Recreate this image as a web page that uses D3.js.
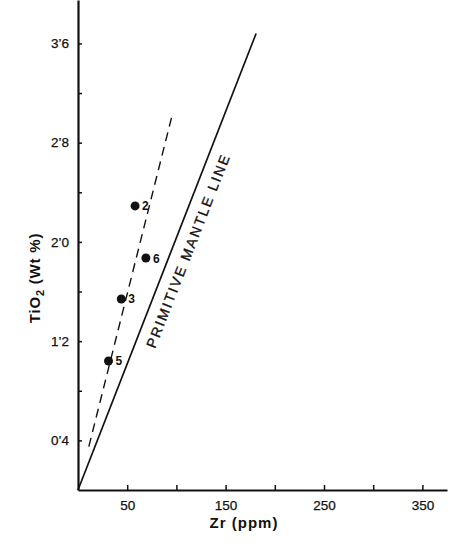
<!DOCTYPE html>
<html>
<head>
<meta charset="utf-8">
<script src="https://cdn.jsdelivr.net/npm/d3@7"></script>
<style>
  html, body { margin: 0; padding: 0; background: #fff; }
  svg { display: block; font-family: "Liberation Sans", Arial, sans-serif; }
</style>
</head>
<body>
<svg id="chart" width="474" height="551"></svg>
<script>
// ---- data ----
const sampleIds = ["2", "6", "3", "5"];
const zrValues = [58, 69, 44, 31];          // Zr (ppm)
const tio2Values = [2.29, 1.87, 1.54, 1.04]; // TiO2 (wt %)
const xTicks = [50, 100, 150, 200, 250, 300, 350];
const xTickLabels = ["50", "", "150", "", "250", "", "350"];
const yTicks = [0.4, 0.8, 1.2, 1.6, 2.0, 2.4, 2.8, 3.2, 3.6];
const yTickLabels = ["0’4", "", "1’2", "", "2’0", "", "2’8", "", "3’6"];
const mantleLineZr = [0, 181];
const mantleLineTi = [0, 3.68];
const trendLineZr = [11, 95];
const trendLineTi = [0.35, 3.0];

const svg = d3.select("#chart");
const x = d3.scaleLinear().domain([0, 375]).range([78, 447]);
const y = d3.scaleLinear().domain([0, 3.95]).range([490, 0]);

// axes
const xAxis = d3.axisBottom(x).tickValues(xTicks)
  .tickSize(-5).tickSizeOuter(0).tickPadding(9)
  .tickFormat((d, i) => xTickLabels[i]);
const gx = svg.append("g").attr("transform", `translate(0,${y(0)})`).call(xAxis);
gx.select(".domain").attr("stroke", "#111").attr("stroke-width", 2.2);
gx.selectAll(".tick line").attr("stroke", "#111").attr("stroke-width", 1.5);
gx.selectAll(".tick text").attr("font-size", 13.5).attr("fill", "#111").attr("dy", "0.85em")
  .attr("stroke", "#111").attr("stroke-width", 0.25);

const yAxis = d3.axisLeft(y).tickValues(yTicks)
  .tickSize(-4).tickSizeOuter(0).tickPadding(9)
  .tickFormat((d, i) => yTickLabels[i]);
const gy = svg.append("g").attr("transform", `translate(${x(0)},0)`).call(yAxis);
gy.select(".domain").attr("stroke", "#111").attr("stroke-width", 2.2);
gy.selectAll(".tick line").attr("stroke", "#111").attr("stroke-width", 1.5);
gy.selectAll(".tick text").attr("font-size", 13.5).attr("fill", "#111")
  .attr("stroke", "#111").attr("stroke-width", 0.25);

// axis titles
svg.append("text").attr("x", 244).attr("y", 528).attr("text-anchor", "middle")
  .attr("font-size", 15).attr("font-weight", "bold").attr("fill", "#111")
  .attr("letter-spacing", 1)
  .text("Zr  (ppm)");
const yt = svg.append("text").attr("transform", "translate(40,278) rotate(-90)")
  .attr("text-anchor", "middle").attr("font-size", 15).attr("font-weight", "bold")
  .attr("fill", "#111").attr("letter-spacing", 0.8);
yt.append("tspan").text("TiO");
yt.append("tspan").attr("font-size", 11).attr("dy", 4).text("2");
yt.append("tspan").attr("dy", -4).text(" (Wt %)");

// lines
const line = d3.line().x(d => x(d[0])).y(d => y(d[1]));
svg.append("path").datum(d3.zip(mantleLineZr, mantleLineTi)).attr("d", line)
  .attr("fill", "none").attr("stroke", "#111").attr("stroke-width", 1.7);
svg.append("path").datum(d3.zip(trendLineZr, trendLineTi)).attr("d", line)
  .attr("fill", "none").attr("stroke", "#111").attr("stroke-width", 1.4)
  .attr("stroke-dasharray", "9,6");

// mantle line label
const p0 = [x(mantleLineZr[0]), y(mantleLineTi[0])];
const p1 = [x(mantleLineZr[1]), y(mantleLineTi[1])];
const ang = Math.atan2(p1[1] - p0[1], p1[0] - p0[0]) * 180 / Math.PI;
const lx = x(112), ly = y(1.93);
svg.append("text").attr("transform", `translate(${lx},${ly}) rotate(${ang})`)
  .attr("text-anchor", "middle").attr("font-size", 14).attr("fill", "#111")
  .attr("stroke", "#111").attr("stroke-width", 0.35)
  .attr("letter-spacing", 2).attr("dy", "0.35em")
  .text("PRIMITIVE  MANTLE  LINE");

// points
const pts = sampleIds.map((id, i) => ({ id, zr: zrValues[i], ti: tio2Values[i] }));
svg.selectAll("circle.pt").data(pts).join("circle").attr("class", "pt")
  .attr("cx", d => x(d.zr)).attr("cy", d => y(d.ti)).attr("r", 4.5).attr("fill", "#111");
svg.selectAll("text.pl").data(pts).join("text").attr("class", "pl")
  .attr("x", d => x(d.zr) + 7).attr("y", d => y(d.ti) + 4.5)
  .attr("font-size", 12).attr("font-weight", "bold").attr("fill", "#111").text(d => d.id);
</script>
</body>
</html>
